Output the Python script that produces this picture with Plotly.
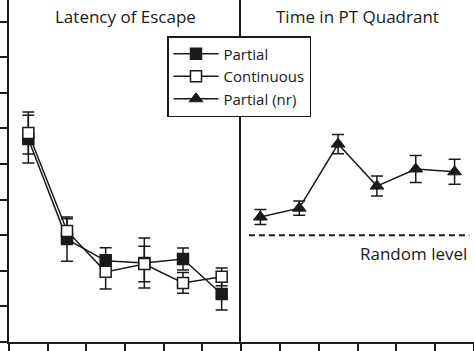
import plotly.graph_objects as go

sessions = [1, 2, 3, 4, 5, 6]

partial_latency = [5.70, 2.89, 2.28, 2.22, 2.33, 1.35]
partial_latency_err = [0.67, 0.62, 0.37, 0.70, 0.31, 0.45]

continuous_latency = [5.87, 3.12, 1.97, 2.19, 1.66, 1.83]
continuous_latency_err = [0.59, 0.34, 0.48, 0.50, 0.29, 0.25]

partial_nr_quadrant = [3.51, 3.76, 5.56, 4.38, 4.86, 4.78]
partial_nr_quadrant_err = [0.21, 0.20, 0.27, 0.28, 0.38, 0.35]

random_level = 3.0

panel_titles = ["Latency of Escape", "Time in PT Quadrant"]
series_names = ["Partial", "Continuous", "Partial (nr)"]

INK = "#1a1a1a"
FONT = "Open Sans"

fig = go.Figure()

fig.add_trace(go.Scatter(
    x=sessions, y=partial_latency, name=series_names[0], mode="lines+markers",
    line=dict(color=INK, width=1.5),
    marker=dict(symbol="square", size=11, color=INK, line=dict(color=INK, width=1.5)),
    error_y=dict(type="data", array=partial_latency_err, color=INK, thickness=1.5, width=6),
    xaxis="x", yaxis="y",
))
fig.add_trace(go.Scatter(
    x=sessions, y=continuous_latency, name=series_names[1], mode="lines+markers",
    line=dict(color=INK, width=1.5),
    marker=dict(symbol="square", size=11, color="white", line=dict(color=INK, width=1.5)),
    error_y=dict(type="data", array=continuous_latency_err, color=INK, thickness=1.5, width=6),
    xaxis="x", yaxis="y",
))
fig.add_trace(go.Scatter(
    x=sessions, y=partial_nr_quadrant, name=series_names[2], mode="lines+markers",
    line=dict(color=INK, width=1.5),
    marker=dict(symbol="triangle-up", size=12, color=INK, line=dict(color=INK, width=1)),
    error_y=dict(type="data", array=partial_nr_quadrant_err, color=INK, thickness=1.5, width=6),
    xaxis="x2", yaxis="y2",
))

fig.add_shape(type="line", xref="x2 domain", yref="y2", x0=0.034, x1=0.98,
              y0=random_level, y1=random_level,
              line=dict(color=INK, width=2, dash="6px,4px"))

split = 232 / 465
tick_pos = [s - 0.5 for s in sessions] + [6.5]
common_x = dict(range=[0.5, 6.5], tickvals=tick_pos, showticklabels=False,
                ticks="outside", ticklen=9, tickwidth=1.7, tickcolor=INK,
                showline=True, linecolor=INK, linewidth=1.7,
                showgrid=False, zeroline=False, fixedrange=True)
yr = [0, 342 / 35.6]
fig.update_layout(
    width=474, height=351,
    margin=dict(l=9, r=0, t=0, b=9),
    paper_bgcolor="white", plot_bgcolor="white",
    font=dict(family=FONT, color=INK, size=15),
    xaxis=dict(domain=[0, split], anchor="y", **common_x),
    xaxis2=dict(domain=[split, 1], anchor="y2", **common_x),
    yaxis=dict(range=yr, tickvals=list(range(10)), showticklabels=False,
               ticks="outside", ticklen=9, tickwidth=1.7, tickcolor=INK,
               showline=True, linecolor=INK, linewidth=1.7,
               showgrid=False, zeroline=False, anchor="x"),
    yaxis2=dict(range=yr, showticklabels=False, ticks="",
                showline=True, linecolor=INK, linewidth=1.7,
                showgrid=False, zeroline=False, anchor="x2"),
    showlegend=True,
    legend=dict(x=(167 - 9) / 465, y=1 - 36 / 342, xanchor="left", yanchor="top",
                bgcolor="white", bordercolor=INK, borderwidth=1.5, itemwidth=45,
                font=dict(family=FONT, size=15, color=INK), tracegroupgap=0),
)

fig.add_annotation(text=panel_titles[0], xref="x domain", yref="paper", x=0.5, y=1 - 17 / 342,
                   showarrow=False, xanchor="center", yanchor="middle",
                   font=dict(family=FONT, size=17, color=INK))
fig.add_annotation(text=panel_titles[1], xref="x2 domain", yref="paper", x=0.5, y=1 - 17 / 342,
                   showarrow=False, xanchor="center", yanchor="middle",
                   font=dict(family=FONT, size=17, color=INK))
fig.add_annotation(text="Random level", xref="x2 domain", yref="paper", x=0.979, y=1 - 253 / 342,
                   showarrow=False, xanchor="right", yanchor="middle",
                   font=dict(family=FONT, size=17, color=INK))

fig.write_html("out.html")
